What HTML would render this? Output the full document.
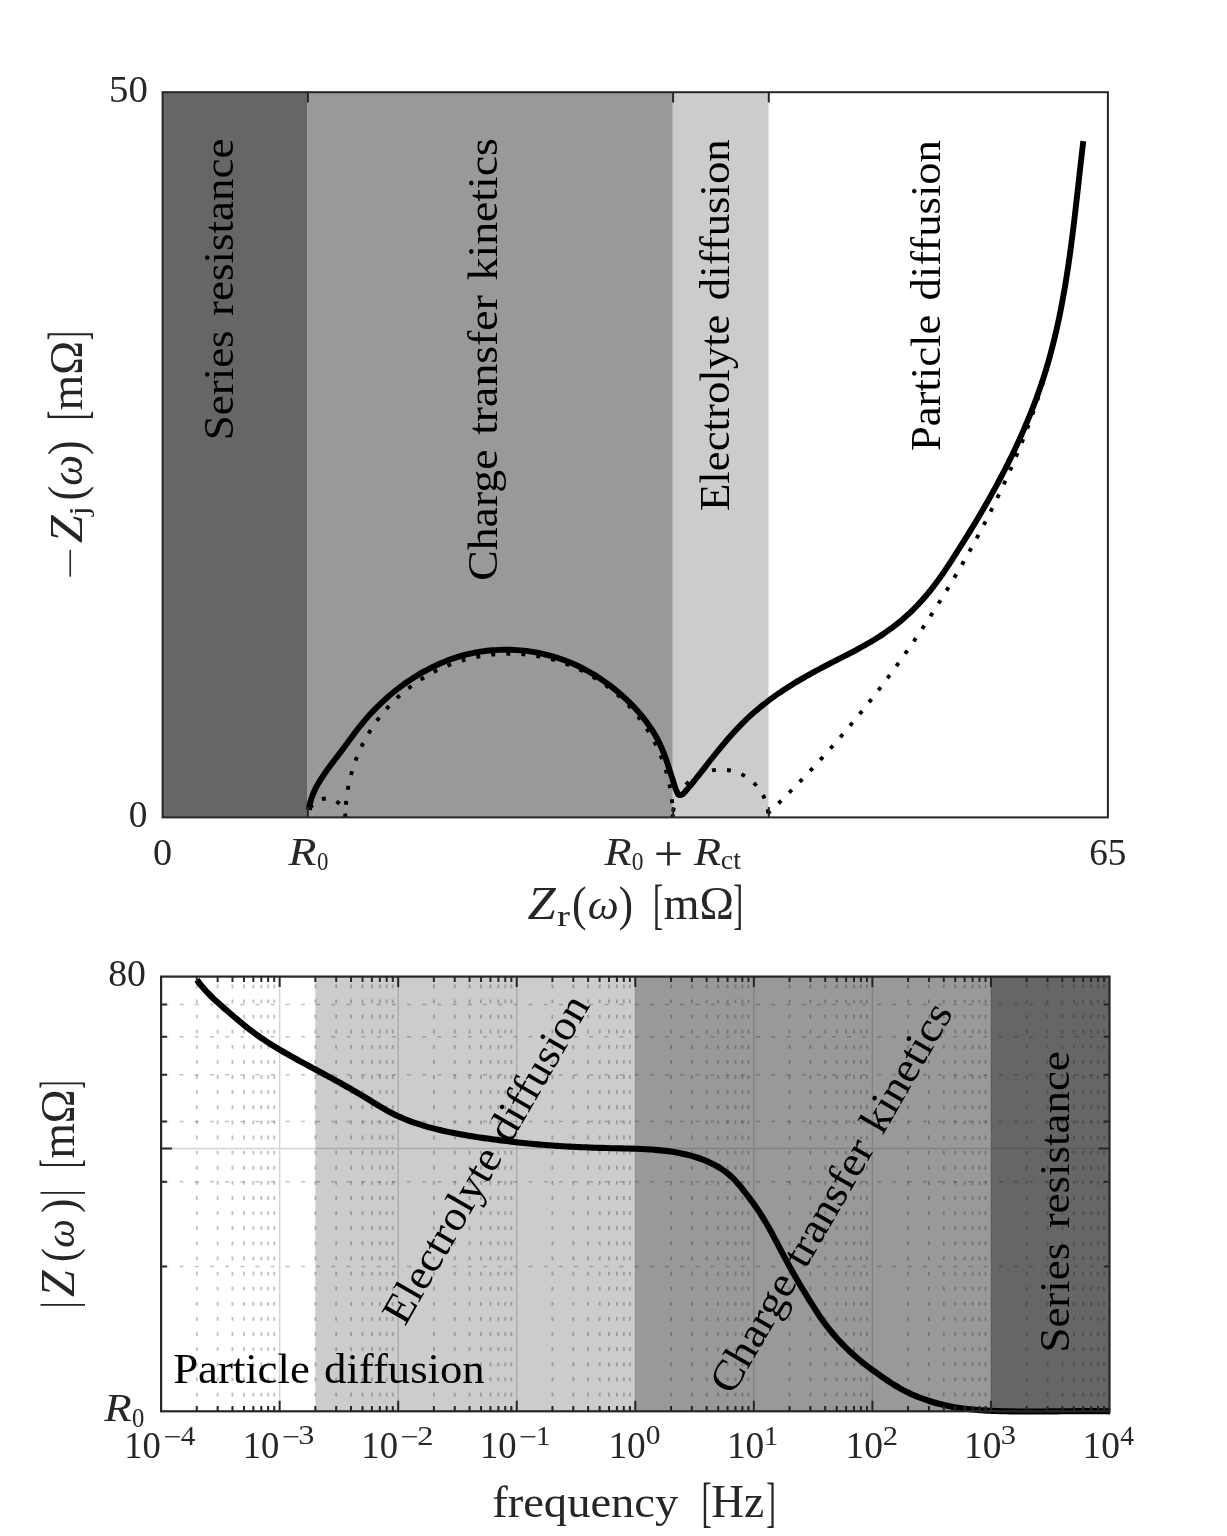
<!DOCTYPE html>
<html lang="en"><head><meta charset="utf-8"><title>Impedance spectrum regions</title>
<style>html,body{margin:0;padding:0;background:#fff}svg{display:block}text{font-family:"Liberation Serif","DejaVu Serif",serif;fill:#000;white-space:pre}.ax text{fill:#262626}.it{font-style:italic}</style></head><body>
<svg width="1227" height="1536" viewBox="0 0 1227 1536">
<rect x="0" y="0" width="1227" height="1536" fill="#fff"/>
<g id="nyquist">
<rect x="162.6" y="92.2" width="145.0" height="725.2" fill="#666"/>
<rect x="307.6" y="92.2" width="365.2" height="725.2" fill="#999"/>
<rect x="672.8" y="92.2" width="95.7" height="725.2" fill="#ccc"/>
<path d="M307.60 817.40 A18.90 18.90 0 0 1 345.40 817.40" fill="none" stroke="#000" stroke-width="3.9" stroke-dasharray="3.9 11.2" stroke-dashoffset="-9.7"/>
<path d="M345.40 817.40 A163.70 163.70 0 0 1 672.80 817.40" fill="none" stroke="#000" stroke-width="3.9" stroke-dasharray="3.9 11.2" stroke-dashoffset="2.4"/>
<path d="M672.80 817.40 A47.85 47.85 0 0 1 768.50 817.40" fill="none" stroke="#000" stroke-width="3.9" stroke-dasharray="3.9 11.2" stroke-dashoffset="-5.9"/>
<path d="M767.52 813.78C768.25 813.08 770.46 810.98 771.92 809.57C773.39 808.17 774.85 806.76 776.30 805.34C777.76 803.93 779.21 802.51 780.65 801.09C782.10 799.67 783.54 798.24 784.98 796.81C786.42 795.38 787.85 793.94 789.28 792.50C790.71 791.06 792.14 789.62 793.56 788.17C794.98 786.72 796.39 785.27 797.80 783.81C799.22 782.35 800.62 780.89 802.03 779.43C803.43 777.96 804.83 776.49 806.22 775.02C807.62 773.55 809.01 772.07 810.39 770.59C811.78 769.10 813.16 767.62 814.53 766.13C815.91 764.64 817.28 763.15 818.65 761.65C820.02 760.15 821.38 758.65 822.74 757.14C824.10 755.64 825.46 754.13 826.81 752.61C828.16 751.10 829.50 749.58 830.84 748.06C832.19 746.54 833.52 745.01 834.86 743.48C836.19 741.95 837.52 740.42 838.84 738.88C840.17 737.35 841.49 735.81 842.80 734.26C844.12 732.72 845.43 731.17 846.73 729.62C848.04 728.06 849.34 726.51 850.64 724.95C851.94 723.39 853.23 721.83 854.52 720.26C855.81 718.69 857.09 717.12 858.37 715.55C859.66 713.97 860.93 712.39 862.20 710.81C863.47 709.23 864.74 707.65 866.00 706.06C867.27 704.47 868.53 702.88 869.78 701.28C871.03 699.68 872.28 698.08 873.53 696.48C874.77 694.88 876.01 693.27 877.25 691.66C878.49 690.05 879.72 688.44 880.95 686.82C882.17 685.21 883.40 683.59 884.62 681.96C885.83 680.34 887.05 678.71 888.26 677.08C889.47 675.45 890.67 673.82 891.88 672.18C893.08 670.55 894.27 668.91 895.47 667.26C896.66 665.62 897.85 663.97 899.03 662.32C900.21 660.67 901.39 659.02 902.57 657.36C903.74 655.71 904.91 654.05 906.08 652.38C907.24 650.72 908.41 649.06 909.56 647.39C910.72 645.72 911.87 644.05 913.02 642.37C914.17 640.70 915.31 639.02 916.45 637.34C917.59 635.65 918.73 633.97 919.86 632.28C920.99 630.60 922.12 628.91 923.24 627.21C924.36 625.52 925.48 623.82 926.59 622.12C927.70 620.42 928.81 618.72 929.92 617.02C931.02 615.31 932.12 613.60 933.22 611.89C934.31 610.18 935.40 608.47 936.49 606.75C937.58 605.04 938.66 603.32 939.74 601.59C940.81 599.87 941.89 598.15 942.96 596.42C944.03 594.69 945.09 592.96 946.15 591.23C947.21 589.49 948.27 587.76 949.32 586.02C950.37 584.28 951.41 582.54 952.46 580.80C953.50 579.05 954.54 577.31 955.57 575.56C956.60 573.81 957.63 572.06 958.66 570.30C959.68 568.55 960.70 566.79 961.72 565.03C962.73 563.27 963.74 561.51 964.75 559.74C965.76 557.98 966.76 556.21 967.75 554.44C968.75 552.67 969.74 550.90 970.73 549.12C971.72 547.35 972.70 545.57 973.67 543.79C974.65 542.01 975.62 540.23 976.59 538.44C977.55 536.65 978.51 534.87 979.47 533.07C980.43 531.28 981.38 529.49 982.32 527.69C983.27 525.89 984.21 524.10 985.14 522.29C986.07 520.49 987.00 518.69 987.93 516.88C988.85 515.07 989.77 513.26 990.68 511.45C991.59 509.63 992.49 507.82 993.39 506.00C994.29 504.18 995.19 502.36 996.08 500.54C996.96 498.71 997.85 496.89 998.72 495.06C999.60 493.23 1000.47 491.39 1001.33 489.56C1002.20 487.72 1003.05 485.89 1003.91 484.05C1004.76 482.21 1005.60 480.36 1006.44 478.52C1007.28 476.67 1008.11 474.82 1008.94 472.97C1009.76 471.12 1010.58 469.26 1011.40 467.41C1012.21 465.55 1013.01 463.69 1013.81 461.83C1014.61 459.96 1015.41 458.10 1016.19 456.23C1016.98 454.36 1017.76 452.49 1018.53 450.62C1019.30 448.74 1020.06 446.87 1020.82 444.99C1021.58 443.11 1022.33 441.22 1023.08 439.34C1023.82 437.45 1024.56 435.56 1025.29 433.67C1026.01 431.78 1026.74 429.89 1027.45 427.99C1028.17 426.09 1028.87 424.20 1029.57 422.29C1030.27 420.39 1030.97 418.49 1031.65 416.58C1032.34 414.67 1033.01 412.76 1033.68 410.84C1034.35 408.93 1035.01 407.02 1035.67 405.10C1036.32 403.18 1036.97 401.26 1037.61 399.33C1038.25 397.41 1038.88 395.48 1039.50 393.55C1040.12 391.62 1040.74 389.69 1041.35 387.75C1041.95 385.81 1042.55 383.88 1043.14 381.94C1043.73 379.99 1044.32 378.05 1044.89 376.10C1045.46 374.16 1046.03 372.21 1046.59 370.26C1047.15 368.30 1047.70 366.35 1048.24 364.39C1048.78 362.44 1049.31 360.48 1049.83 358.51C1050.36 356.55 1050.87 354.59 1051.38 352.62C1051.89 350.65 1052.39 348.68 1052.88 346.71C1053.37 344.73 1053.85 342.76 1054.32 340.78C1054.79 338.80 1055.25 336.82 1055.71 334.84C1056.16 332.85 1056.61 330.87 1057.05 328.88C1057.48 326.89 1057.91 324.90 1058.33 322.90C1058.75 320.91 1059.15 318.91 1059.55 316.91C1059.95 314.91 1060.35 312.91 1060.73 310.91C1061.11 308.90 1061.48 306.90 1061.84 304.89C1062.21 302.88 1062.56 300.87 1062.90 298.85C1063.25 296.84 1063.74 293.81 1063.91 292.80" fill="none" stroke="#000" stroke-width="3.9" stroke-dasharray="3.9 11.2" stroke-dashoffset="0"/>
<path d="M308.84 809.84C309.03 808.82 309.47 805.71 309.94 803.71C310.40 801.71 310.98 799.75 311.63 797.83C312.28 795.91 313.03 794.03 313.84 792.19C314.65 790.34 315.54 788.53 316.49 786.74C317.43 784.95 318.44 783.20 319.49 781.46C320.54 779.72 321.65 778.01 322.77 776.32C323.90 774.62 325.07 772.94 326.25 771.28C327.43 769.61 328.63 767.96 329.85 766.32C331.06 764.67 332.29 763.04 333.53 761.41C334.76 759.77 336.00 758.15 337.24 756.52C338.48 754.90 339.72 753.28 340.94 751.65C342.17 750.02 343.39 748.39 344.59 746.75C345.80 745.12 347.00 743.48 348.20 741.84C349.40 740.21 350.59 738.57 351.79 736.94C352.99 735.31 354.20 733.69 355.42 732.07C356.65 730.46 357.88 728.85 359.14 727.26C360.40 725.67 361.67 724.09 362.98 722.53C364.28 720.97 365.60 719.42 366.95 717.89C368.29 716.36 369.66 714.85 371.05 713.35C372.43 711.85 373.84 710.37 375.27 708.91C376.70 707.45 378.15 706.01 379.62 704.59C381.09 703.16 382.58 701.76 384.09 700.38C385.60 699.00 387.13 697.63 388.67 696.29C390.22 694.95 391.78 693.63 393.37 692.33C394.95 691.04 396.55 689.76 398.17 688.51C399.79 687.26 401.42 686.03 403.07 684.83C404.73 683.63 406.40 682.45 408.08 681.30C409.77 680.15 411.47 679.02 413.19 677.92C414.90 676.82 416.64 675.75 418.38 674.70C420.13 673.65 421.89 672.64 423.67 671.65C425.45 670.66 427.24 669.70 429.05 668.77C430.85 667.84 432.67 666.93 434.50 666.06C436.34 665.19 438.18 664.35 440.04 663.55C441.90 662.74 443.77 661.96 445.65 661.22C447.54 660.48 449.43 659.77 451.34 659.09C453.24 658.41 455.16 657.77 457.09 657.16C459.02 656.56 460.96 655.98 462.91 655.45C464.86 654.91 466.82 654.41 468.79 653.95C470.76 653.48 472.74 653.06 474.73 652.67C476.71 652.28 478.71 651.93 480.72 651.62C482.72 651.30 484.74 651.03 486.76 650.80C488.78 650.56 490.81 650.36 492.84 650.21C494.87 650.05 496.91 649.93 498.94 649.85C500.98 649.76 503.03 649.72 505.07 649.71C507.12 649.71 509.16 649.74 511.21 649.81C513.25 649.87 515.30 649.98 517.34 650.12C519.38 650.27 521.43 650.45 523.46 650.66C525.50 650.88 527.54 651.13 529.56 651.42C531.59 651.71 533.62 652.04 535.63 652.40C537.65 652.77 539.66 653.17 541.66 653.60C543.66 654.04 545.65 654.51 547.64 655.02C549.62 655.53 551.59 656.07 553.55 656.65C555.51 657.23 557.46 657.84 559.39 658.49C561.32 659.14 563.24 659.83 565.15 660.55C567.06 661.27 568.95 662.02 570.82 662.81C572.70 663.60 574.56 664.42 576.40 665.28C578.25 666.13 580.08 667.02 581.89 667.93C583.70 668.85 585.50 669.80 587.28 670.78C589.06 671.76 590.82 672.77 592.57 673.81C594.32 674.85 596.05 675.92 597.76 677.02C599.47 678.12 601.16 679.25 602.84 680.40C604.51 681.55 606.17 682.74 607.81 683.94C609.45 685.15 611.07 686.39 612.67 687.65C614.27 688.91 615.86 690.19 617.42 691.50C618.98 692.81 620.52 694.14 622.05 695.50C623.57 696.86 625.07 698.24 626.55 699.64C628.03 701.04 629.49 702.47 630.93 703.91C632.37 705.36 633.78 706.83 635.17 708.32C636.56 709.82 637.92 711.33 639.25 712.87C640.58 714.41 641.89 715.97 643.16 717.56C644.43 719.15 645.67 720.75 646.87 722.39C648.08 724.02 649.25 725.68 650.38 727.36C651.51 729.04 652.60 730.75 653.65 732.48C654.71 734.21 655.72 735.97 656.69 737.75C657.66 739.53 658.58 741.34 659.46 743.17C660.34 745.00 661.17 746.86 661.97 748.73C662.77 750.61 663.52 752.50 664.25 754.41C664.98 756.32 665.67 758.25 666.35 760.18C667.03 762.12 667.68 764.06 668.32 766.01C668.96 767.96 669.58 769.91 670.20 771.86C670.82 773.81 671.43 775.76 672.05 777.70C672.67 779.64 673.28 781.58 673.91 783.51C674.54 785.43 675.24 787.69 675.82 789.24C676.41 790.79 676.92 791.91 677.40 792.80C677.88 793.69 678.22 794.23 678.70 794.60C679.18 794.97 679.64 795.05 680.30 795.00C680.96 794.95 681.62 795.18 682.69 794.32C683.75 793.47 685.37 791.36 686.69 789.85C688.01 788.34 689.30 786.81 690.59 785.27C691.88 783.73 693.15 782.18 694.42 780.62C695.69 779.05 696.94 777.48 698.19 775.89C699.45 774.31 700.69 772.72 701.93 771.13C703.18 769.54 704.42 767.93 705.66 766.34C706.91 764.74 708.15 763.14 709.40 761.54C710.65 759.94 711.91 758.35 713.17 756.76C714.44 755.16 715.71 753.58 716.98 752.00C718.26 750.42 719.55 748.84 720.84 747.27C722.14 745.71 723.44 744.15 724.76 742.60C726.07 741.05 727.40 739.51 728.73 737.98C730.07 736.45 731.42 734.94 732.78 733.43C734.14 731.93 735.52 730.44 736.91 728.97C738.30 727.49 739.70 726.03 741.12 724.59C742.53 723.15 743.97 721.73 745.42 720.32C746.87 718.92 748.33 717.53 749.82 716.17C751.30 714.80 752.80 713.46 754.32 712.14C755.84 710.81 757.37 709.51 758.93 708.23C760.48 706.94 762.04 705.68 763.63 704.43C765.21 703.18 766.80 701.96 768.41 700.74C770.02 699.53 771.65 698.34 773.29 697.16C774.92 695.99 776.58 694.83 778.24 693.68C779.90 692.54 781.57 691.41 783.26 690.29C784.94 689.18 786.64 688.08 788.35 686.99C790.05 685.91 791.77 684.84 793.50 683.78C795.22 682.72 796.96 681.68 798.70 680.64C800.44 679.61 802.19 678.59 803.95 677.58C805.71 676.57 807.48 675.57 809.25 674.58C811.02 673.59 812.80 672.61 814.58 671.65C816.36 670.68 818.15 669.72 819.95 668.77C821.74 667.82 823.54 666.88 825.33 665.94C827.13 665.00 828.94 664.08 830.74 663.15C832.54 662.22 834.35 661.30 836.16 660.38C837.96 659.45 839.76 658.53 841.57 657.61C843.37 656.68 845.17 655.76 846.97 654.83C848.76 653.90 850.56 652.96 852.35 652.02C854.13 651.08 855.92 650.13 857.70 649.17C859.47 648.21 861.24 647.24 863.01 646.25C864.77 645.27 866.52 644.28 868.27 643.27C870.01 642.25 871.75 641.23 873.47 640.19C875.19 639.14 876.91 638.08 878.61 637.00C880.31 635.91 881.99 634.81 883.67 633.68C885.34 632.56 887.00 631.41 888.64 630.23C890.28 629.05 891.91 627.85 893.52 626.62C895.13 625.40 896.72 624.14 898.29 622.87C899.87 621.59 901.43 620.29 902.96 618.97C904.50 617.64 906.02 616.30 907.52 614.93C909.02 613.56 910.51 612.17 911.97 610.76C913.43 609.35 914.87 607.91 916.29 606.46C917.71 605.01 919.11 603.54 920.48 602.05C921.86 600.55 923.21 599.04 924.54 597.51C925.87 595.99 927.18 594.44 928.46 592.88C929.75 591.31 931.01 589.73 932.25 588.14C933.49 586.54 934.71 584.93 935.91 583.31C937.12 581.69 938.30 580.05 939.47 578.41C940.64 576.76 941.80 575.10 942.94 573.44C944.09 571.77 945.22 570.10 946.34 568.42C947.46 566.74 948.57 565.05 949.68 563.36C950.79 561.67 951.89 559.97 952.99 558.27C954.08 556.57 955.18 554.87 956.26 553.16C957.35 551.46 958.44 549.75 959.52 548.04C960.61 546.34 961.69 544.62 962.76 542.91C963.84 541.20 964.91 539.48 965.98 537.76C967.04 536.04 968.11 534.32 969.17 532.60C970.23 530.87 971.28 529.15 972.33 527.42C973.38 525.69 974.43 523.96 975.47 522.22C976.51 520.49 977.55 518.75 978.58 517.01C979.61 515.27 980.64 513.52 981.66 511.78C982.68 510.03 983.69 508.28 984.70 506.53C985.71 504.78 986.72 503.02 987.72 501.26C988.72 499.50 989.71 497.74 990.70 495.97C991.69 494.21 992.67 492.44 993.64 490.67C994.62 488.89 995.59 487.12 996.55 485.34C997.51 483.56 998.47 481.78 999.42 479.99C1000.37 478.20 1001.31 476.41 1002.25 474.62C1003.18 472.83 1004.11 471.03 1005.04 469.23C1005.96 467.43 1006.87 465.62 1007.78 463.81C1008.69 462.01 1009.59 460.19 1010.48 458.38C1011.38 456.56 1012.26 454.74 1013.14 452.92C1014.02 451.09 1014.89 449.26 1015.75 447.43C1016.61 445.60 1017.46 443.76 1018.31 441.92C1019.15 440.08 1019.99 438.24 1020.82 436.39C1021.64 434.54 1022.46 432.69 1023.27 430.83C1024.09 428.98 1024.89 427.12 1025.68 425.26C1026.47 423.39 1027.25 421.53 1028.03 419.66C1028.80 417.79 1029.57 415.91 1030.32 414.03C1031.07 412.15 1031.82 410.27 1032.55 408.39C1033.29 406.50 1034.01 404.61 1034.73 402.72C1035.44 400.83 1036.15 398.93 1036.84 397.03C1037.53 395.13 1038.22 393.23 1038.89 391.32C1039.56 389.42 1040.22 387.51 1040.87 385.59C1041.52 383.68 1042.16 381.76 1042.79 379.84C1043.42 377.92 1044.03 376.00 1044.64 374.07C1045.24 372.15 1045.83 370.22 1046.42 368.28C1047.00 366.35 1047.57 364.41 1048.13 362.47C1048.69 360.53 1049.23 358.59 1049.77 356.64C1050.31 354.70 1050.84 352.75 1051.35 350.80C1051.87 348.84 1052.38 346.89 1052.87 344.93C1053.37 342.97 1053.86 341.01 1054.33 339.05C1054.81 337.09 1055.28 335.12 1055.74 333.16C1056.19 331.19 1056.64 329.22 1057.08 327.25C1057.52 325.27 1057.96 323.30 1058.38 321.32C1058.80 319.35 1059.22 317.37 1059.62 315.39C1060.03 313.40 1060.43 311.42 1060.82 309.44C1061.21 307.45 1061.59 305.46 1061.97 303.48C1062.34 301.49 1062.71 299.50 1063.07 297.50C1063.43 295.51 1063.79 293.52 1064.14 291.52C1064.48 289.53 1064.82 287.53 1065.16 285.53C1065.49 283.53 1065.82 281.53 1066.14 279.53C1066.47 277.53 1066.78 275.53 1067.09 273.53C1067.40 271.52 1067.71 269.52 1068.01 267.51C1068.31 265.51 1068.60 263.50 1068.89 261.49C1069.18 259.49 1069.47 257.48 1069.75 255.47C1070.03 253.46 1070.31 251.45 1070.58 249.44C1070.85 247.43 1071.12 245.42 1071.38 243.41C1071.64 241.40 1071.90 239.38 1072.16 237.37C1072.42 235.36 1072.67 233.35 1072.92 231.33C1073.17 229.32 1073.42 227.31 1073.66 225.30C1073.91 223.28 1074.15 221.27 1074.39 219.26C1074.63 217.24 1074.86 215.23 1075.10 213.22C1075.33 211.20 1075.57 209.19 1075.80 207.18C1076.03 205.17 1076.26 203.15 1076.49 201.14C1076.72 199.13 1076.94 197.12 1077.17 195.11C1077.40 193.10 1077.62 191.09 1077.85 189.08C1078.07 187.07 1078.30 185.06 1078.52 183.05C1078.74 181.04 1078.97 179.04 1079.19 177.03C1079.42 175.02 1079.64 173.02 1079.86 171.01C1080.09 169.01 1080.31 167.01 1080.54 165.01C1080.77 163.00 1080.99 161.00 1081.22 159.00C1081.45 157.00 1081.68 155.01 1081.91 153.01C1082.14 151.01 1082.38 149.02 1082.61 147.03C1082.85 145.03 1083.20 142.05 1083.32 141.05" fill="none" stroke="#000" stroke-width="5.9" stroke-linejoin="round"/>
<rect x="162.6" y="92.2" width="945.3" height="725.2" fill="none" stroke="#262626" stroke-width="2"/>
<path d="M307.9 92.2v10.4M307.9 817.4v-10.4M673.1 92.2v10.4M673.1 817.4v-10.4M768.8 92.2v10.4M768.8 817.4v-10.4" fill="none" stroke="#262626" stroke-width="2"/>
</g>
<g class="ax">
<text transform="translate(108.98 101.70) scale(1.0113 1)" font-size="38.40">50</text>
<text transform="translate(128.74 827.19) scale(0.9593 1)" font-size="38.84">0</text>
<text transform="translate(153.11 864.70) scale(0.9903 1)" font-size="38.55">0</text>
<text transform="translate(1089.14 864.70) scale(0.9622 1)" font-size="38.69">65</text>
<text class="it" transform="translate(288.61 864.70) scale(1.1375 1)" font-size="40.23">R</text>
<text transform="translate(317.09 870.39) scale(0.8730 1)" font-size="26.18">0</text>
<text class="it" transform="translate(604.59 864.60) scale(1.1017 1)" font-size="40.23">R</text>
<text transform="translate(631.86 869.90) scale(0.9093 1)" font-size="25.89">0</text>
<text transform="translate(653.75 871.34) scale(1.0127 1)" font-size="51.61">+</text>
<text class="it" transform="translate(693.89 864.60) scale(1.1017 1)" font-size="40.23">R</text>
<text transform="translate(720.73 869.38) scale(1.0507 1)" font-size="26.61">ct</text>
<text class="it" transform="translate(527.40 919.20) scale(1.0764 1)" font-size="47.09">Z</text>
<text transform="translate(556.89 925.70) scale(1.3604 1)" font-size="28.70">r</text>
<text transform="translate(571.93 920.16) scale(0.8822 1)" font-size="49.57">(</text>
<text class="it" transform="translate(587.82 918.95) scale(1.0661 1)" font-size="41.29">ω</text>
<text transform="translate(618.86 920.16) scale(0.8657 1)" font-size="49.57">)</text>
<text transform="translate(652.88 923.38) scale(0.5672 1)" font-size="54.16">[</text>
<text transform="translate(663.38 919.20) scale(1.0208 1)" font-size="45.40">mΩ</text>
<text transform="translate(733.18 923.38) scale(0.5435 1)" font-size="54.16">]</text>
<g transform="translate(82 455) rotate(-90)">
<text transform="translate(-124.91 -0.70) scale(1.8067 1)" font-size="32.00">−</text>
<text class="it" transform="translate(-87.90 0.10) scale(1.0546 1)" font-size="47.24">Z</text>
<text transform="translate(-60.69 6.08) scale(1.2667 1)" font-size="27.96">j</text>
<text transform="translate(-45.47 1.17) scale(0.8670 1)" font-size="50.44">(</text>
<text class="it" transform="translate(-30.87 -0.08) scale(1.0081 1)" font-size="43.35">ω</text>
<text transform="translate(-0.19 1.17) scale(0.8807 1)" font-size="50.44">)</text>
<text transform="translate(34.69 3.82) scale(0.5380 1)" font-size="53.93">[</text>
<text transform="translate(44.79 -0.10) scale(0.9573 1)" font-size="47.48">mΩ</text>
<text transform="translate(114.85 3.82) scale(0.5064 1)" font-size="53.93">]</text>
</g>
</g>
<g transform="translate(233.1 0) rotate(-90)">
<text transform="translate(-440.31 0.00) scale(1.0588 1)" font-size="42.50" word-spacing="3.00">Series resistance</text>
</g>
<g transform="translate(497.2 0) rotate(-90)">
<text transform="translate(-580.83 0.00) scale(1.0769 1)" font-size="42.50" word-spacing="3.00">Charge transfer kinetics</text>
</g>
<g transform="translate(728.9 0) rotate(-90)">
<text transform="translate(-511.00 0.00) scale(1.0540 1)" font-size="42.50" word-spacing="3.00">Electrolyte diffusion</text>
</g>
<g transform="translate(939.7 0) rotate(-90)">
<text transform="translate(-451.10 0.00) scale(1.0506 1)" font-size="42.50" word-spacing="3.00">Particle diffusion</text>
</g>
<g id="bode">
<rect x="315.34" y="976.6" width="319.96" height="434.7" fill="#ccc"/>
<rect x="635.30" y="976.6" width="355.65" height="434.7" fill="#999"/>
<rect x="990.95" y="976.6" width="118.55" height="434.7" fill="#666"/>
<path d="M279.65 976.6V1411.3M398.20 976.6V1411.3M516.75 976.6V1411.3M635.30 976.6V1411.3M753.85 976.6V1411.3M872.40 976.6V1411.3M990.95 976.6V1411.3M161.1 1148.50H1109.5" fill="none" stroke="#262626" stroke-opacity="0.2" stroke-width="1.4"/>
<path d="M196.79 976.6V1411.3M217.66 976.6V1411.3M232.47 976.6V1411.3M243.96 976.6V1411.3M253.35 976.6V1411.3M261.29 976.6V1411.3M268.16 976.6V1411.3M274.23 976.6V1411.3M315.34 976.6V1411.3M336.21 976.6V1411.3M351.02 976.6V1411.3M362.51 976.6V1411.3M371.90 976.6V1411.3M379.84 976.6V1411.3M386.71 976.6V1411.3M392.78 976.6V1411.3M433.89 976.6V1411.3M454.76 976.6V1411.3M469.57 976.6V1411.3M481.06 976.6V1411.3M490.45 976.6V1411.3M498.39 976.6V1411.3M505.26 976.6V1411.3M511.33 976.6V1411.3M552.44 976.6V1411.3M573.31 976.6V1411.3M588.12 976.6V1411.3M599.61 976.6V1411.3M609.00 976.6V1411.3M616.94 976.6V1411.3M623.81 976.6V1411.3M629.88 976.6V1411.3M670.99 976.6V1411.3M691.86 976.6V1411.3M706.67 976.6V1411.3M718.16 976.6V1411.3M727.55 976.6V1411.3M735.49 976.6V1411.3M742.36 976.6V1411.3M748.43 976.6V1411.3M789.54 976.6V1411.3M810.41 976.6V1411.3M825.22 976.6V1411.3M836.71 976.6V1411.3M846.10 976.6V1411.3M854.04 976.6V1411.3M860.91 976.6V1411.3M866.98 976.6V1411.3M908.09 976.6V1411.3M928.96 976.6V1411.3M943.77 976.6V1411.3M955.26 976.6V1411.3M964.65 976.6V1411.3M972.59 976.6V1411.3M979.46 976.6V1411.3M985.53 976.6V1411.3M1026.64 976.6V1411.3M1047.51 976.6V1411.3M1062.32 976.6V1411.3M1073.81 976.6V1411.3M1083.20 976.6V1411.3M1091.14 976.6V1411.3M1098.01 976.6V1411.3M1104.08 976.6V1411.3" fill="none" stroke="#1a1a1a" stroke-opacity="0.27" stroke-width="1.9" stroke-dasharray="3.8 11.32" stroke-dashoffset="7.32"/>
<path d="M161.1 1004.51H1109.5M161.1 1036.74H1109.5M161.1 1074.85H1109.5M161.1 1121.50H1109.5M161.1 1181.64H1109.5M161.1 1266.40H1109.5" fill="none" stroke="#1a1a1a" stroke-opacity="0.26" stroke-width="1.5" stroke-dasharray="4 11.17" stroke-dashoffset="11.87"/>
<path d="M196.85 979.82C197.35 980.48 198.81 982.48 199.83 983.77C200.85 985.06 201.89 986.32 202.96 987.56C204.03 988.80 205.12 990.02 206.23 991.22C207.34 992.42 208.47 993.59 209.61 994.75C210.76 995.92 211.92 997.06 213.10 998.19C214.28 999.32 215.47 1000.44 216.67 1001.55C217.88 1002.66 219.09 1003.75 220.31 1004.84C221.53 1005.93 222.77 1007.01 224.00 1008.09C225.24 1009.16 226.48 1010.23 227.72 1011.31C228.96 1012.38 230.21 1013.45 231.46 1014.51C232.71 1015.58 233.95 1016.65 235.21 1017.71C236.46 1018.77 237.72 1019.83 238.98 1020.88C240.24 1021.93 241.50 1022.98 242.77 1024.02C244.04 1025.06 245.32 1026.09 246.60 1027.11C247.89 1028.13 249.17 1029.15 250.47 1030.14C251.77 1031.14 253.08 1032.13 254.39 1033.10C255.71 1034.07 257.04 1035.03 258.37 1035.98C259.71 1036.92 261.05 1037.85 262.40 1038.77C263.75 1039.69 265.12 1040.60 266.48 1041.49C267.85 1042.39 269.23 1043.27 270.61 1044.14C271.99 1045.02 273.38 1045.88 274.78 1046.73C276.17 1047.59 277.57 1048.43 278.98 1049.27C280.38 1050.10 281.80 1050.93 283.21 1051.75C284.63 1052.57 286.05 1053.39 287.47 1054.20C288.90 1055.00 290.33 1055.81 291.76 1056.60C293.19 1057.40 294.62 1058.19 296.06 1058.98C297.49 1059.77 298.93 1060.56 300.37 1061.34C301.81 1062.13 303.25 1062.90 304.70 1063.68C306.14 1064.46 307.58 1065.24 309.02 1066.02C310.47 1066.79 311.91 1067.57 313.35 1068.35C314.79 1069.12 316.24 1069.90 317.68 1070.68C319.12 1071.45 320.56 1072.23 322.00 1073.01C323.45 1073.78 324.89 1074.56 326.33 1075.34C327.76 1076.12 329.20 1076.91 330.64 1077.69C332.08 1078.47 333.51 1079.26 334.95 1080.05C336.38 1080.83 337.82 1081.63 339.25 1082.42C340.68 1083.21 342.11 1084.01 343.53 1084.81C344.96 1085.61 346.39 1086.41 347.81 1087.22C349.23 1088.03 350.65 1088.84 352.07 1089.66C353.49 1090.47 354.91 1091.29 356.32 1092.12C357.73 1092.94 359.14 1093.77 360.55 1094.61C361.95 1095.45 363.36 1096.29 364.76 1097.14C366.16 1097.99 367.55 1098.84 368.95 1099.70C370.34 1100.56 371.73 1101.42 373.13 1102.28C374.52 1103.14 375.92 1104.00 377.32 1104.85C378.72 1105.70 380.12 1106.54 381.53 1107.37C382.94 1108.21 384.35 1109.03 385.78 1109.83C387.20 1110.64 388.63 1111.43 390.08 1112.19C391.53 1112.96 392.99 1113.70 394.46 1114.42C395.93 1115.15 397.41 1115.84 398.91 1116.52C400.40 1117.20 401.91 1117.85 403.43 1118.48C404.94 1119.12 406.47 1119.73 408.00 1120.32C409.53 1120.91 411.07 1121.49 412.62 1122.04C414.16 1122.60 415.72 1123.13 417.27 1123.65C418.83 1124.17 420.39 1124.68 421.96 1125.16C423.52 1125.65 425.09 1126.12 426.66 1126.57C428.23 1127.03 429.81 1127.47 431.39 1127.89C432.97 1128.32 434.55 1128.73 436.14 1129.13C437.72 1129.53 439.31 1129.91 440.90 1130.29C442.49 1130.66 444.09 1131.02 445.68 1131.37C447.28 1131.72 448.88 1132.06 450.48 1132.39C452.08 1132.71 453.69 1133.03 455.29 1133.34C456.90 1133.65 458.51 1133.95 460.12 1134.24C461.73 1134.53 463.34 1134.81 464.96 1135.09C466.57 1135.37 468.18 1135.63 469.80 1135.90C471.42 1136.16 473.03 1136.41 474.65 1136.67C476.27 1136.92 477.89 1137.16 479.51 1137.40C481.13 1137.64 482.75 1137.88 484.38 1138.11C486.00 1138.35 487.62 1138.58 489.24 1138.80C490.87 1139.03 492.49 1139.25 494.11 1139.47C495.74 1139.69 497.36 1139.91 498.99 1140.12C500.61 1140.33 502.24 1140.54 503.86 1140.74C505.49 1140.95 507.11 1141.15 508.74 1141.34C510.37 1141.54 511.99 1141.73 513.62 1141.92C515.25 1142.10 516.88 1142.29 518.51 1142.47C520.13 1142.64 521.76 1142.82 523.39 1142.99C525.02 1143.16 526.65 1143.33 528.28 1143.49C529.91 1143.65 531.54 1143.81 533.17 1143.96C534.80 1144.11 536.43 1144.26 538.06 1144.40C539.69 1144.55 541.32 1144.68 542.95 1144.82C544.58 1144.95 546.21 1145.08 547.84 1145.21C549.47 1145.33 551.10 1145.45 552.73 1145.56C554.36 1145.68 556.00 1145.79 557.63 1145.90C559.26 1146.00 560.89 1146.11 562.52 1146.20C564.16 1146.30 565.79 1146.40 567.42 1146.49C569.05 1146.58 570.69 1146.67 572.32 1146.75C573.95 1146.83 575.59 1146.91 577.22 1146.99C578.86 1147.07 580.49 1147.14 582.13 1147.21C583.76 1147.28 585.40 1147.35 587.03 1147.41C588.67 1147.47 590.30 1147.53 591.94 1147.59C593.58 1147.65 595.21 1147.71 596.85 1147.76C598.49 1147.81 600.12 1147.86 601.76 1147.91C603.40 1147.96 605.04 1148.01 606.68 1148.05C608.32 1148.10 609.96 1148.14 611.60 1148.18C613.24 1148.22 614.88 1148.26 616.52 1148.29C618.16 1148.33 619.80 1148.37 621.44 1148.40C623.09 1148.44 624.73 1148.47 626.37 1148.51C628.01 1148.55 629.66 1148.60 631.30 1148.64C632.94 1148.69 634.58 1148.74 636.22 1148.80C637.86 1148.85 639.50 1148.91 641.14 1148.99C642.78 1149.06 644.42 1149.13 646.05 1149.22C647.69 1149.31 649.32 1149.41 650.96 1149.52C652.59 1149.63 654.22 1149.76 655.85 1149.89C657.48 1150.03 659.11 1150.18 660.74 1150.34C662.36 1150.51 663.99 1150.69 665.61 1150.89C667.23 1151.09 668.85 1151.30 670.46 1151.54C672.08 1151.77 673.69 1152.03 675.30 1152.30C676.91 1152.58 678.52 1152.87 680.12 1153.19C681.73 1153.51 683.33 1153.86 684.92 1154.22C686.52 1154.59 688.11 1154.98 689.70 1155.40C691.29 1155.82 692.87 1156.27 694.44 1156.74C696.02 1157.22 697.58 1157.72 699.14 1158.25C700.69 1158.79 702.23 1159.35 703.76 1159.95C705.29 1160.55 706.80 1161.18 708.30 1161.84C709.79 1162.51 711.27 1163.20 712.73 1163.94C714.18 1164.67 715.62 1165.44 717.03 1166.25C718.44 1167.06 719.83 1167.91 721.20 1168.80C722.56 1169.68 723.89 1170.61 725.20 1171.58C726.50 1172.55 727.78 1173.56 729.02 1174.62C730.26 1175.67 731.47 1176.78 732.65 1177.92C733.82 1179.06 734.96 1180.25 736.08 1181.47C737.20 1182.68 738.28 1183.93 739.35 1185.20C740.42 1186.47 741.47 1187.77 742.50 1189.07C743.54 1190.37 744.55 1191.69 745.56 1193.00C746.57 1194.32 747.58 1195.63 748.57 1196.95C749.56 1198.27 750.55 1199.58 751.53 1200.90C752.51 1202.21 753.48 1203.53 754.43 1204.86C755.38 1206.19 756.32 1207.52 757.24 1208.87C758.16 1210.21 759.07 1211.57 759.96 1212.93C760.85 1214.30 761.72 1215.68 762.58 1217.06C763.44 1218.45 764.28 1219.85 765.11 1221.25C765.94 1222.65 766.76 1224.07 767.57 1225.48C768.38 1226.90 769.18 1228.33 769.97 1229.76C770.76 1231.19 771.55 1232.63 772.32 1234.07C773.10 1235.51 773.87 1236.95 774.64 1238.40C775.41 1239.85 776.17 1241.30 776.93 1242.75C777.69 1244.20 778.45 1245.66 779.21 1247.11C779.97 1248.56 780.73 1250.02 781.49 1251.47C782.25 1252.92 783.01 1254.38 783.78 1255.83C784.54 1257.27 785.31 1258.72 786.09 1260.17C786.87 1261.61 787.65 1263.05 788.44 1264.49C789.22 1265.92 790.02 1267.36 790.82 1268.79C791.61 1270.22 792.42 1271.64 793.23 1273.07C794.04 1274.49 794.85 1275.91 795.67 1277.33C796.49 1278.75 797.31 1280.16 798.14 1281.57C798.97 1282.98 799.80 1284.39 800.64 1285.80C801.48 1287.20 802.32 1288.61 803.17 1290.01C804.02 1291.41 804.87 1292.81 805.72 1294.20C806.57 1295.60 807.43 1296.99 808.29 1298.38C809.16 1299.77 810.02 1301.16 810.89 1302.54C811.76 1303.93 812.63 1305.31 813.51 1306.70C814.39 1308.08 815.26 1309.46 816.15 1310.83C817.04 1312.20 817.93 1313.58 818.84 1314.94C819.74 1316.30 820.66 1317.65 821.59 1319.00C822.53 1320.34 823.47 1321.67 824.44 1322.99C825.41 1324.31 826.40 1325.62 827.40 1326.92C828.41 1328.21 829.43 1329.49 830.47 1330.76C831.51 1332.03 832.57 1333.29 833.64 1334.53C834.71 1335.77 835.80 1337.00 836.90 1338.22C838.00 1339.44 839.12 1340.64 840.25 1341.83C841.38 1343.02 842.52 1344.20 843.67 1345.37C844.82 1346.53 845.98 1347.69 847.16 1348.83C848.33 1349.97 849.52 1351.09 850.71 1352.21C851.91 1353.32 853.12 1354.42 854.33 1355.51C855.55 1356.59 856.78 1357.67 858.03 1358.73C859.27 1359.79 860.53 1360.83 861.80 1361.86C863.06 1362.89 864.35 1363.91 865.64 1364.91C866.93 1365.91 868.24 1366.90 869.56 1367.87C870.88 1368.85 872.21 1369.80 873.55 1370.76C874.88 1371.71 876.22 1372.66 877.57 1373.60C878.91 1374.55 880.25 1375.49 881.59 1376.43C882.93 1377.36 884.27 1378.30 885.62 1379.23C886.97 1380.15 888.31 1381.07 889.68 1381.97C891.04 1382.87 892.40 1383.76 893.78 1384.62C895.17 1385.49 896.56 1386.34 897.97 1387.16C899.37 1387.98 900.80 1388.78 902.24 1389.56C903.67 1390.33 905.13 1391.09 906.59 1391.81C908.05 1392.54 909.53 1393.25 911.02 1393.93C912.51 1394.61 914.01 1395.27 915.53 1395.91C917.04 1396.54 918.56 1397.15 920.09 1397.74C921.62 1398.33 923.17 1398.90 924.72 1399.45C926.27 1399.99 927.82 1400.51 929.39 1401.02C930.96 1401.52 932.53 1401.99 934.11 1402.45C935.69 1402.91 937.27 1403.34 938.86 1403.76C940.45 1404.17 942.05 1404.56 943.64 1404.93C945.24 1405.30 946.84 1405.65 948.45 1405.98C950.05 1406.31 951.66 1406.61 953.27 1406.90C954.88 1407.19 956.50 1407.46 958.11 1407.71C959.73 1407.96 961.35 1408.19 962.97 1408.41C964.58 1408.63 966.21 1408.83 967.83 1409.01C969.45 1409.20 971.08 1409.37 972.71 1409.52C974.33 1409.68 975.96 1409.82 977.59 1409.96C979.22 1410.09 980.86 1410.21 982.49 1410.31C984.12 1410.42 985.75 1410.52 987.39 1410.61C989.02 1410.70 990.66 1410.78 992.29 1410.85C993.93 1410.92 995.56 1410.98 997.20 1411.04C998.84 1411.10 1000.47 1411.15 1002.11 1411.20C1003.75 1411.24 1005.38 1411.28 1007.02 1411.32C1008.66 1411.35 1010.29 1411.38 1011.93 1411.41C1013.57 1411.44 1015.21 1411.46 1016.84 1411.47C1018.48 1411.49 1020.12 1411.50 1021.76 1411.51C1023.40 1411.52 1025.03 1411.52 1026.67 1411.53C1028.31 1411.53 1029.95 1411.53 1031.59 1411.52C1033.22 1411.52 1034.86 1411.51 1036.50 1411.50C1038.14 1411.49 1039.78 1411.48 1041.42 1411.47C1043.05 1411.46 1044.69 1411.44 1046.33 1411.43C1047.97 1411.41 1049.61 1411.40 1051.25 1411.38C1052.89 1411.36 1054.52 1411.35 1056.16 1411.33C1057.80 1411.31 1059.44 1411.29 1061.08 1411.28C1062.72 1411.26 1064.35 1411.24 1065.99 1411.22C1067.63 1411.21 1069.27 1411.19 1070.91 1411.18C1072.55 1411.16 1074.18 1411.15 1075.82 1411.14C1077.46 1411.13 1079.10 1411.12 1080.74 1411.11C1082.37 1411.11 1084.01 1411.10 1085.65 1411.10C1087.29 1411.10 1088.92 1411.10 1090.56 1411.11C1092.20 1411.11 1093.83 1411.12 1095.47 1411.13C1097.11 1411.15 1098.74 1411.16 1100.38 1411.18C1102.02 1411.20 1103.65 1411.23 1105.29 1411.26C1106.92 1411.29 1109.38 1411.34 1110.20 1411.36" fill="none" stroke="#000" stroke-width="6.1"/>
<rect x="161.1" y="976.6" width="948.4" height="434.7" fill="none" stroke="#262626" stroke-width="2.2"/>
<path d="M196.79 1411.3v-5.3M196.79 976.6v5.3M217.66 1411.3v-5.3M217.66 976.6v5.3M232.47 1411.3v-5.3M232.47 976.6v5.3M243.96 1411.3v-5.3M243.96 976.6v5.3M253.35 1411.3v-5.3M253.35 976.6v5.3M261.29 1411.3v-5.3M261.29 976.6v5.3M268.16 1411.3v-5.3M268.16 976.6v5.3M274.23 1411.3v-5.3M274.23 976.6v5.3M279.65 1411.3v-10.5M279.65 976.6v10.5M315.34 1411.3v-5.3M315.34 976.6v5.3M336.21 1411.3v-5.3M336.21 976.6v5.3M351.02 1411.3v-5.3M351.02 976.6v5.3M362.51 1411.3v-5.3M362.51 976.6v5.3M371.90 1411.3v-5.3M371.90 976.6v5.3M379.84 1411.3v-5.3M379.84 976.6v5.3M386.71 1411.3v-5.3M386.71 976.6v5.3M392.78 1411.3v-5.3M392.78 976.6v5.3M398.20 1411.3v-10.5M398.20 976.6v10.5M433.89 1411.3v-5.3M433.89 976.6v5.3M454.76 1411.3v-5.3M454.76 976.6v5.3M469.57 1411.3v-5.3M469.57 976.6v5.3M481.06 1411.3v-5.3M481.06 976.6v5.3M490.45 1411.3v-5.3M490.45 976.6v5.3M498.39 1411.3v-5.3M498.39 976.6v5.3M505.26 1411.3v-5.3M505.26 976.6v5.3M511.33 1411.3v-5.3M511.33 976.6v5.3M516.75 1411.3v-10.5M516.75 976.6v10.5M552.44 1411.3v-5.3M552.44 976.6v5.3M573.31 1411.3v-5.3M573.31 976.6v5.3M588.12 1411.3v-5.3M588.12 976.6v5.3M599.61 1411.3v-5.3M599.61 976.6v5.3M609.00 1411.3v-5.3M609.00 976.6v5.3M616.94 1411.3v-5.3M616.94 976.6v5.3M623.81 1411.3v-5.3M623.81 976.6v5.3M629.88 1411.3v-5.3M629.88 976.6v5.3M635.30 1411.3v-10.5M635.30 976.6v10.5M670.99 1411.3v-5.3M670.99 976.6v5.3M691.86 1411.3v-5.3M691.86 976.6v5.3M706.67 1411.3v-5.3M706.67 976.6v5.3M718.16 1411.3v-5.3M718.16 976.6v5.3M727.55 1411.3v-5.3M727.55 976.6v5.3M735.49 1411.3v-5.3M735.49 976.6v5.3M742.36 1411.3v-5.3M742.36 976.6v5.3M748.43 1411.3v-5.3M748.43 976.6v5.3M753.85 1411.3v-10.5M753.85 976.6v10.5M789.54 1411.3v-5.3M789.54 976.6v5.3M810.41 1411.3v-5.3M810.41 976.6v5.3M825.22 1411.3v-5.3M825.22 976.6v5.3M836.71 1411.3v-5.3M836.71 976.6v5.3M846.10 1411.3v-5.3M846.10 976.6v5.3M854.04 1411.3v-5.3M854.04 976.6v5.3M860.91 1411.3v-5.3M860.91 976.6v5.3M866.98 1411.3v-5.3M866.98 976.6v5.3M872.40 1411.3v-10.5M872.40 976.6v10.5M908.09 1411.3v-5.3M908.09 976.6v5.3M928.96 1411.3v-5.3M928.96 976.6v5.3M943.77 1411.3v-5.3M943.77 976.6v5.3M955.26 1411.3v-5.3M955.26 976.6v5.3M964.65 1411.3v-5.3M964.65 976.6v5.3M972.59 1411.3v-5.3M972.59 976.6v5.3M979.46 1411.3v-5.3M979.46 976.6v5.3M985.53 1411.3v-5.3M985.53 976.6v5.3M990.95 1411.3v-10.5M990.95 976.6v10.5M1026.64 1411.3v-5.3M1026.64 976.6v5.3M1047.51 1411.3v-5.3M1047.51 976.6v5.3M1062.32 1411.3v-5.3M1062.32 976.6v5.3M1073.81 1411.3v-5.3M1073.81 976.6v5.3M1083.20 1411.3v-5.3M1083.20 976.6v5.3M1091.14 1411.3v-5.3M1091.14 976.6v5.3M1098.01 1411.3v-5.3M1098.01 976.6v5.3M1104.08 1411.3v-5.3M1104.08 976.6v5.3M161.1 1004.51h5.8M1109.5 1004.51h-5.8M161.1 1036.74h5.8M1109.5 1036.74h-5.8M161.1 1074.85h5.8M1109.5 1074.85h-5.8M161.1 1121.50h5.8M1109.5 1121.50h-5.8M161.1 1181.64h5.8M1109.5 1181.64h-5.8M161.1 1266.40h5.8M1109.5 1266.40h-5.8M161.1 1148.50h10.8M1109.5 1148.50h-10.8" fill="none" stroke="#262626" stroke-width="2"/>
</g>
<g class="ax">
<text transform="translate(108.22 986.10) scale(0.9796 1)" font-size="38.55">80</text>
<text class="it" transform="translate(104.30 1421.20) scale(1.0968 1)" font-size="40.99">R</text>
<text transform="translate(131.93 1426.58) scale(0.9174 1)" font-size="26.91">0</text>
<text transform="translate(124.24 1458.40) scale(0.9496 1)" font-size="38.55">10</text>
<text transform="translate(163.41 1445.98) scale(1.1686 1)" font-size="27.20">−</text>
<text transform="translate(180.64 1444.90) scale(1.0789 1)" font-size="27.09">4</text>
<text transform="translate(242.79 1458.40) scale(0.9496 1)" font-size="38.55">10</text>
<text transform="translate(281.96 1445.98) scale(1.1686 1)" font-size="27.20">−</text>
<text transform="translate(298.13 1444.49) scale(1.2267 1)" font-size="26.47">3</text>
<text transform="translate(361.34 1458.40) scale(0.9496 1)" font-size="38.55">10</text>
<text transform="translate(400.51 1445.98) scale(1.1686 1)" font-size="27.20">−</text>
<text transform="translate(417.19 1444.90) scale(1.1988 1)" font-size="27.09">2</text>
<text transform="translate(479.89 1458.40) scale(0.9496 1)" font-size="38.55">10</text>
<text transform="translate(519.06 1445.98) scale(1.1686 1)" font-size="27.20">−</text>
<text transform="translate(535.98 1444.90) scale(1.0730 1)" font-size="27.09">1</text>
<text transform="translate(608.38 1458.40) scale(0.9700 1)" font-size="38.55">10</text>
<text transform="translate(645.68 1444.49) scale(1.1138 1)" font-size="26.47">0</text>
<text transform="translate(726.93 1458.40) scale(0.9700 1)" font-size="38.55">10</text>
<text transform="translate(763.94 1444.90) scale(1.0435 1)" font-size="27.09">1</text>
<text transform="translate(845.48 1458.40) scale(0.9700 1)" font-size="38.55">10</text>
<text transform="translate(882.74 1444.90) scale(1.1288 1)" font-size="27.09">2</text>
<text transform="translate(964.03 1458.40) scale(0.9700 1)" font-size="38.55">10</text>
<text transform="translate(1000.82 1444.49) scale(1.1551 1)" font-size="26.47">3</text>
<text transform="translate(1082.58 1458.40) scale(0.9700 1)" font-size="38.55">10</text>
<text transform="translate(1120.37 1444.90) scale(1.0159 1)" font-size="27.09">4</text>
<text transform="translate(492.17 1517.40) scale(1.0709 1)" font-size="43.50">frequency</text>
<text transform="translate(701.58 1521.28) scale(0.5672 1)" font-size="54.16">[</text>
<text transform="translate(711.29 1517.40) scale(0.9668 1)" font-size="46.93">Hz</text>
<text transform="translate(766.31 1521.28) scale(0.5278 1)" font-size="54.16">]</text>
<g transform="translate(73.9 1194) rotate(-90)">
<text transform="translate(-114.80 0.60) scale(0.7780 1)" font-size="49.36">|</text>
<text class="it" transform="translate(-103.00 0.00) scale(0.9730 1)" font-size="49.07">Z</text>
<text transform="translate(-68.11 0.60) scale(0.8501 1)" font-size="49.36">(</text>
<text class="it" transform="translate(-53.87 -0.24) scale(0.9879 1)" font-size="41.08">ω</text>
<text transform="translate(-18.94 0.60) scale(0.8696 1)" font-size="49.36">)</text>
<text transform="translate(-2.80 0.60) scale(0.7780 1)" font-size="49.36">|</text>
<text transform="translate(25.97 3.82) scale(0.4826 1)" font-size="53.93">[</text>
<text transform="translate(35.39 0.00) scale(0.9498 1)" font-size="47.93">mΩ</text>
<text transform="translate(105.34 3.82) scale(0.4510 1)" font-size="53.93">]</text>
</g>
</g>
<text transform="translate(173.20 1383.20) scale(1.0519 1)" font-size="42.50" word-spacing="3.00">Particle diffusion</text>
<g transform="translate(405.3 1326.4) rotate(-60)">
<text transform="translate(-0.70 0.00) scale(1.0537 1)" font-size="42.50" word-spacing="3.00">Electrolyte diffusion</text>
</g>
<g transform="translate(733 1395) rotate(-60)">
<text transform="translate(-1.43 0.00) scale(1.0769 1)" font-size="42.50" word-spacing="3.00">Charge transfer kinetics</text>
</g>
<g transform="translate(1068.7 0) rotate(-90)">
<text transform="translate(-1352.61 0.00) scale(1.0577 1)" font-size="42.50" word-spacing="3.00">Series resistance</text>
</g>
</svg></body></html>
